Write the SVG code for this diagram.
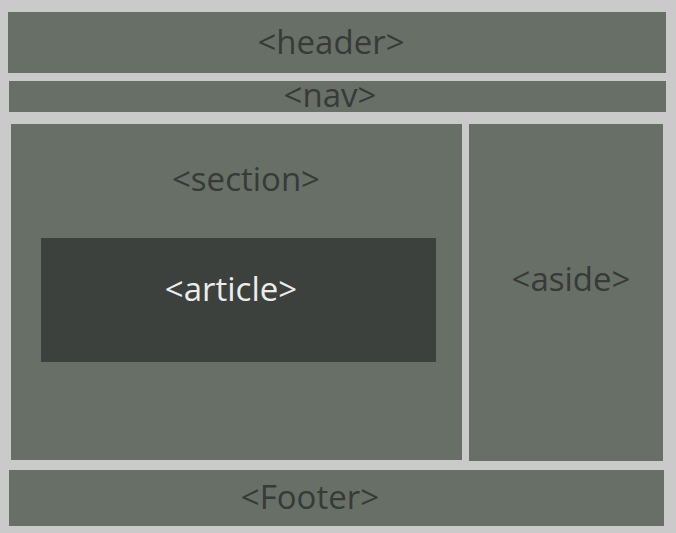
<svg xmlns="http://www.w3.org/2000/svg" width="676" height="533" viewBox="0 0 676 533">
<style>
.b{fill:#686f67}
.t{font-family:"Open Sans","Liberation Sans",sans-serif;font-size:33px;fill:#373a37;text-anchor:middle}
</style>
<rect width="676" height="533" fill="#c9cac9"/>
<g id="header"><rect class="b" x="8" y="12" width="658" height="61"/><text class="t" x="331" y="54">&lt;header&gt;</text></g>
<g id="nav"><rect class="b" x="9" y="81" width="657" height="31"/><text class="t" x="330" y="107">&lt;nav&gt;</text></g>
<g id="section"><rect class="b" x="11" y="124" width="451" height="336"/><text class="t" x="246" y="191">&lt;section&gt;</text></g>
<g id="article"><rect x="41" y="238" width="395" height="124" fill="#3c413d"/><text class="t" x="231" y="301" style="fill:#ececec">&lt;article&gt;</text></g>
<g id="aside"><rect class="b" x="469" y="124" width="194" height="337"/><text class="t" x="571" y="291">&lt;aside&gt;</text></g>
<g id="footer"><rect class="b" x="9" y="470" width="655" height="56"/><text class="t" x="310" y="509">&lt;Footer&gt;</text></g>
<g id="connectors"/>
</svg>
